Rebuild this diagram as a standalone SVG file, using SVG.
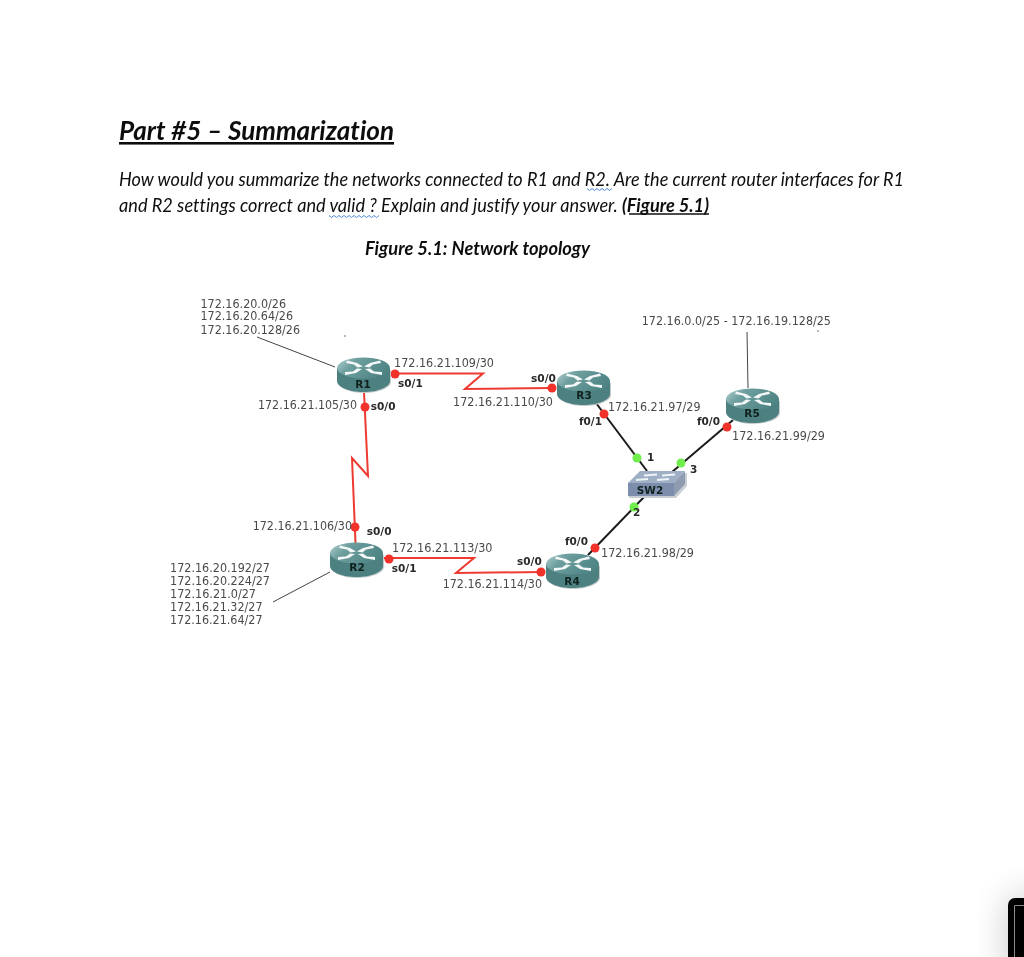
<svg xmlns="http://www.w3.org/2000/svg" xmlns:xlink="http://www.w3.org/1999/xlink" width="1024" height="957" viewBox="0 0 1024 957">
<style>
.doc{font-family:"Lato","Open Sans",sans-serif;font-style:italic;fill:#111;font-variant-ligatures:none}
.b{font-weight:700}
.ip{font-family:"DejaVu Sans",sans-serif;font-size:11.500px;fill:#4a4a4a}
.pt{font-family:"DejaVu Sans",sans-serif;font-size:10.500px;font-weight:700;fill:#2a2a2a}
.nm{font-family:"DejaVu Sans",sans-serif;font-size:10.500px;font-weight:700;fill:#10201f;text-anchor:middle}
.ser{fill:none;stroke:#ee3a32;stroke-width:2}
.eth{fill:none;stroke:#1b1b1b;stroke-width:2}
.cab{fill:none;stroke:#444;stroke-width:1}
.red{fill:#f0322a}
.grn{fill:#6fee4c}
.sq{fill:none;stroke:#4a86d8;stroke-width:1}
</style>
<defs>
<filter id="soft" x="-5%" y="-5%" width="110%" height="110%"><feGaussianBlur stdDeviation="0.4"/></filter>
<filter id="glowb" x="-50%" y="-50%" width="200%" height="200%"><feGaussianBlur stdDeviation="18"/></filter>
<linearGradient id="top" x1="0" y1="0" x2="1" y2="0.4"><stop offset="0" stop-color="#b5d2d2"/><stop offset="0.35" stop-color="#6f9f9f"/><stop offset="1" stop-color="#4f8585"/></linearGradient>
<symbol id="router" viewBox="0 0 56 38" width="56" height="38" overflow="visible">
<path d="M1 13 V25 C1 31 13 36 27 36 C41 36 54 31 54 25 V13 Z" fill="#c6cccc"/>
<path d="M0 11 V24 C0 30 12 35 26.500 35 C41 35 53 30 53 24 V11 Z" fill="#4e8181"/>
<ellipse cx="26.500" cy="11" rx="26.500" ry="10.500" fill="url(#top)"/>
<path d="M10 3.500 L20 6 L26 9.500 L20.500 10.500 L17 7.500 L9 6 Z M43 3.500 L33 6 L27 9.500 L32.500 10.500 L36 7.500 L44 6 Z M8 18 L19 16 L25 12 L20 11.500 L16 14.500 L8 15 Z M45 18 L34 16 L28 12 L33 11.500 L37 14.500 L45 15 Z" fill="#f4f8f8"/>
</symbol>
</defs>
<rect width="1024" height="957" fill="#fff"/>
<g filter="url(#soft)">
<g id="document-text">
<text class="doc b" x="119" y="140" font-size="26" textLength="275" lengthAdjust="spacingAndGlyphs" text-decoration="underline">Part #5 – Summarization</text>
<text class="doc" x="119" y="186" font-size="18.500" textLength="785" lengthAdjust="spacingAndGlyphs">How would you summarize the networks connected to R1 and R2. Are the current router interfaces for R1</text>
<text class="doc" x="119" y="211.500" font-size="18.500" textLength="590" lengthAdjust="spacingAndGlyphs">and R2 settings correct and valid ? Explain and justify your answer. <tspan class="b">(Figure 5.1)</tspan></text>
<path d="M629 214 H709" stroke="#111" stroke-width="1.300" fill="none"/>
<text class="doc b" x="365" y="254.500" font-size="18.500" textLength="225" lengthAdjust="spacingAndGlyphs">Figure 5.1: Network topology</text>
<path class="sq" d="M329 215.500 l2.500 2 2.500 -2 2.500 2 2.500 -2 2.500 2 2.500 -2 2.500 2 2.500 -2 2.500 2 2.500 -2 2.500 2 2.500 -2 2.500 2 2.500 -2 2.500 2 2.500 -2 2.500 2 2.500 -2 2.500 2 2.500 -2"/>
<path class="sq" d="M587 188.500 l2.500 2 2.500 -2 2.500 2 2.500 -2 2.500 2 2.500 -2 2.500 2 2.500 -2 2.500 2 2.500 -2"/>
</g>
<g id="connectors">
<path class="cab" d="M257 337 L335 367"/>
<path class="cab" d="M747 332 L748 388"/>
<path class="cab" d="M273 602 L330 572"/>
<path class="ser" d="M389 373.500 H483 L465 389 L552 388"/>
<path class="ser" d="M364 392 L368 476 L352 458 L355.500 543"/>
<path class="ser" d="M384 558 H474 L456 573 L541 572"/>
<path class="eth" d="M596 403 L647 471"/>
<path class="eth" d="M733 420 L672 472"/>
<path class="eth" d="M645 496 L588 555"/>
<circle class="red" cx="395" cy="374" r="4.500"/>
<circle class="red" cx="552" cy="388" r="4.500"/>
<circle class="red" cx="365" cy="407" r="4.500"/>
<circle class="red" cx="355" cy="527" r="4.500"/>
<circle class="red" cx="389" cy="559" r="4.500"/>
<circle class="red" cx="541" cy="572" r="4.500"/>
<circle class="red" cx="604" cy="414" r="4.500"/>
<circle class="red" cx="727" cy="427" r="4.500"/>
<circle class="red" cx="595" cy="548" r="4.500"/>
<circle class="grn" cx="637" cy="458" r="4.500"/>
<circle class="grn" cx="681" cy="463" r="4.500"/>
<circle class="grn" cx="634" cy="507" r="4.500"/>
<circle cx="345" cy="336" r="0.700" fill="#444"/>
<circle cx="818" cy="331" r="0.700" fill="#444"/>
</g>
<g id="R1"><use xlink:href="#router" href="#router" x="337" y="357"/><text class="nm" x="363" y="388">R1</text></g>
<g id="R2"><use xlink:href="#router" href="#router" x="330" y="542"/><text class="nm" x="357" y="571">R2</text></g>
<g id="R3"><use xlink:href="#router" href="#router" x="557" y="370"/><text class="nm" x="584" y="399">R3</text></g>
<g id="R4"><use xlink:href="#router" href="#router" x="546" y="553"/><text class="nm" x="572" y="585">R4</text></g>
<g id="R5"><use xlink:href="#router" href="#router" x="726" y="388"/><text class="nm" x="752" y="417">R5</text></g>
<g id="SW2">
<path d="M628 484 V497 H675 L686 485 V472 Z" fill="#c9ced2" transform="translate(1 1)"/>
<path d="M628 483 H674 V496 H628 Z" fill="#7b8eab"/>
<path d="M674 483 L685 471 V484 L674 496 Z" fill="#8f9cb0"/>
<path d="M628 483 L640 471 H685 L674 483 Z" fill="#9fb0c6"/>
<path d="M636 480 L648 479 M644 475.500 L657 474.500 M657 480 L669 479 M662 475.500 L675 474.500" stroke="#eef3f8" stroke-width="1.800" fill="none"/>
<text class="nm" x="650" y="494">SW2</text>
</g>
<g id="labels">
<text class="ip" x="200.500" y="307.500" textLength="85.500" lengthAdjust="spacingAndGlyphs">172.16.20.0/26</text>
<text class="ip" x="200.500" y="320" textLength="92.500" lengthAdjust="spacingAndGlyphs">172.16.20.64/26</text>
<text class="ip" x="200.500" y="333.500" textLength="99.500" lengthAdjust="spacingAndGlyphs">172.16.20.128/26</text>
<text class="ip" x="394" y="366.500" textLength="100" lengthAdjust="spacingAndGlyphs">172.16.21.109/30</text>
<text class="ip" x="258" y="408.700" textLength="99" lengthAdjust="spacingAndGlyphs">172.16.21.105/30</text>
<text class="ip" x="453" y="405.700" textLength="100" lengthAdjust="spacingAndGlyphs">172.16.21.110/30</text>
<text class="ip" x="641.700" y="325.300" textLength="189.300" lengthAdjust="spacingAndGlyphs">172.16.0.0/25 - 172.16.19.128/25</text>
<text class="ip" x="608" y="411" textLength="92.500" lengthAdjust="spacingAndGlyphs">172.16.21.97/29</text>
<text class="ip" x="732" y="439.500" textLength="93" lengthAdjust="spacingAndGlyphs">172.16.21.99/29</text>
<text class="ip" x="601" y="556.700" textLength="93" lengthAdjust="spacingAndGlyphs">172.16.21.98/29</text>
<text class="ip" x="252.700" y="530" textLength="99.300" lengthAdjust="spacingAndGlyphs">172.16.21.106/30</text>
<text class="ip" x="392" y="551.700" textLength="100.500" lengthAdjust="spacingAndGlyphs">172.16.21.113/30</text>
<text class="ip" x="442.700" y="588.300" textLength="99.300" lengthAdjust="spacingAndGlyphs">172.16.21.114/30</text>
<text class="ip" x="170" y="571.700" textLength="100" lengthAdjust="spacingAndGlyphs">172.16.20.192/27</text>
<text class="ip" x="170" y="585" textLength="100" lengthAdjust="spacingAndGlyphs">172.16.20.224/27</text>
<text class="ip" x="170" y="597.700" textLength="86" lengthAdjust="spacingAndGlyphs">172.16.21.0/27</text>
<text class="ip" x="170" y="611" textLength="92.500" lengthAdjust="spacingAndGlyphs">172.16.21.32/27</text>
<text class="ip" x="170" y="623.700" textLength="92.500" lengthAdjust="spacingAndGlyphs">172.16.21.64/27</text>
<text class="pt" x="398" y="386.700" textLength="24.700" lengthAdjust="spacingAndGlyphs">s0/1</text>
<text class="pt" x="531" y="381.700" textLength="25" lengthAdjust="spacingAndGlyphs">s0/0</text>
<text class="pt" x="370.700" y="410" textLength="24.800" lengthAdjust="spacingAndGlyphs">s0/0</text>
<text class="pt" x="579" y="424.700" textLength="23" lengthAdjust="spacingAndGlyphs">f0/1</text>
<text class="pt" x="697" y="424.700" textLength="23" lengthAdjust="spacingAndGlyphs">f0/0</text>
<text class="pt" x="647" y="461">1</text>
<text class="pt" x="690" y="472.700">3</text>
<text class="pt" x="633" y="516">2</text>
<text class="pt" x="565" y="545" textLength="23" lengthAdjust="spacingAndGlyphs">f0/0</text>
<text class="pt" x="366.700" y="534.700" textLength="24.800" lengthAdjust="spacingAndGlyphs">s0/0</text>
<text class="pt" x="391.700" y="572.300" textLength="24.800" lengthAdjust="spacingAndGlyphs">s0/1</text>
<text class="pt" x="517" y="564.700" textLength="24.700" lengthAdjust="spacingAndGlyphs">s0/0</text>
</g>
</g>
<g id="screen-corner">
<rect x="1008" y="898" width="60" height="80" rx="8" fill="#000" opacity="0.220" filter="url(#glowb)"/>
<rect x="1008" y="898" width="40" height="80" rx="7" fill="#000"/>
<path d="M1014.500 957 V905.500 H1024" fill="none" stroke="#8a8a8a" stroke-width="1"/>
</g>
</svg>
